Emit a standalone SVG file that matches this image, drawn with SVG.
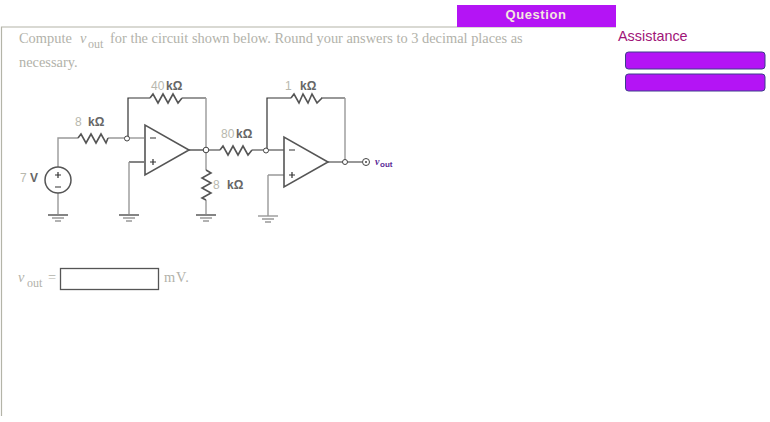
<svg xmlns="http://www.w3.org/2000/svg" width="770" height="422" viewBox="0 0 770 422">
<style>
.t{font-family:"Liberation Serif",serif;font-size:14.4px;fill:#b2b2aa}
.i{font-style:italic}
.s{font-size:12px}
.w{fill:none;stroke:#333;stroke-width:1.2}
.g{fill:none;stroke:#999;stroke-width:1.4}
.o{fill:none;stroke:#555;stroke-width:1.6}
.n{fill:#fff;stroke:#444;stroke-width:1}
.lg{font-family:"Liberation Sans",sans-serif;font-size:12px;fill:#b8b8ae}
.lk{font-family:"Liberation Sans",sans-serif;font-size:12px;font-weight:bold;fill:#666}
.b{fill:#b414f5;stroke:#3c3c8c;stroke-width:1}
</style>
<rect width="770" height="422" fill="#fff"/>
<g id="frame"><path d="M616 27H1.500V416" fill="none" stroke="#b4b4a8" stroke-width="1.200"/></g>
<g id="tab"><rect x="457" y="5" width="159" height="22" fill="#b414f5"/><text x="536" y="19" text-anchor="middle" font-family="Liberation Sans,sans-serif" font-size="13" font-weight="bold" letter-spacing=".6" fill="#f5e6e0">Question</text></g>
<g id="assist"><text x="618" y="41" font-family="Liberation Sans,sans-serif" font-size="14.400" fill="#a01478">Assistance</text>
<rect class="b" x="625.500" y="52" width="139.500" height="17" rx="3"/><rect class="b" x="625.500" y="74" width="139.500" height="17" rx="3"/></g>
<g id="prompt">
<text class="t" x="19" y="43">Compute</text><text class="t i" x="80" y="43">v</text><text class="t s" x="88" y="48">out</text>
<text class="t" x="110" y="43">for the circuit shown below. Round your answers to 3 decimal places as</text>
<text class="t" x="19" y="67">necessary.</text>
</g>
<g id="connectors">
<path class="g" d="M58 167V138H78M108 138H127"/>
<path class="g" d="M58 193V214"/>
<path class="w" d="M128 138V98H150M182 98H206"/>
<path class="g" d="M127 138H144"/>
<path class="w" d="M129 162H144"/><path class="g" d="M129 162V214"/>
<path class="w" d="M189 150H206"/><path class="g" d="M206 98V170M206 200V214"/>
<path class="w" d="M206 150H220M252 150H266M266 150H284"/>
<path class="w" d="M267 150V98H291M321 98H345"/><path class="g" d="M345 98V162"/>
<path class="g" d="M268 175H284M268 175V216"/>
<path class="w" d="M328 162H362"/>
</g>
<g id="resistors">
<path class="o" d="M78 138l3-4 5 9 5-9 5 9 5-9 5 9 2-5"/>
<path class="o" d="M150 98l3-4 5 9 5-9 5 9 5-9 5 9 4-5"/>
<path class="o" d="M220 150l3-4 5 9 5-9 5 9 5-9 5 9 4-5"/>
<path class="o" d="M291 98l3-4 5 9 4-9 5 9 4-9 5 9 5-5"/>
<path class="o" d="M206 170l5 3-9 5 9 5-9 5 9 5-9 5 4 2"/>
</g>
<g id="opamp1"><path class="o" d="M145 125V175L189 150Z"/><path class="w" d="M150 138h6M150 162h6M153 159v6"/></g>
<g id="opamp2"><path class="o" d="M284 137V187L328 162Z"/><path class="w" d="M289 150h6M289 175h6M292 172v6"/></g>
<g id="source"><circle cx="58" cy="180" r="13" fill="#fff" stroke="#555" stroke-width="1.500"/><path class="w" d="M55 175h6M58 172v6M55 187h6"/></g>
<g id="grounds">
<path class="w" d="M48 215h20"/><path class="g" d="M52 218h12M55 221h6"/>
<path class="w" d="M119 215h20"/><path class="g" d="M123 218h12M126 221h6"/>
<path class="w" d="M196 215h20"/><path class="g" d="M200 218h12M203 221h6"/>
<path class="g" d="M258 216h20"/><path class="g" d="M262 219h12M265 222h6"/>
</g>
<g id="nodes"><circle class="n" cx="127" cy="138.500" r="2.500"/><circle class="n" cx="206" cy="150" r="2.800"/><circle class="n" cx="266" cy="150.500" r="2.500"/><circle class="n" cx="345" cy="162" r="2.500"/><circle class="n" cx="366" cy="162" r="3.500"/><circle cx="366" cy="162" r="1" fill="#444"/></g>
<g id="labels">
<text class="lg" x="151" y="90">40</text><text class="lk" x="166" y="90">kΩ</text>
<text class="lg" x="75" y="126">8</text><text class="lk" x="88" y="126">kΩ</text>
<text class="lg" x="285" y="90">1</text><text class="lk" x="300" y="90">kΩ</text>
<text class="lg" x="221" y="138">80</text><text class="lk" x="236" y="138">kΩ</text>
<text class="lg" x="213" y="189">8</text><text class="lk" x="227" y="189">kΩ</text>
<text class="lg" x="20" y="182">7</text><text class="lk" x="30" y="182">V</text>
<text x="375" y="165" font-family="Liberation Serif,serif" font-size="10" font-weight="bold" font-style="italic" fill="#5a2a96">v</text><text x="380" y="167" font-family="Liberation Sans,sans-serif" font-size="8" font-weight="bold" fill="#5a2a96">out</text>
</g>
<g id="answer">
<text class="t i" x="18" y="282">v</text><text class="t s" x="27" y="287">out</text><text class="t" x="48" y="282">=</text>
<rect x="60.500" y="268.500" width="98" height="21" fill="#fff" stroke="#555" stroke-width="1.300"/>
<text class="t" x="164" y="282" letter-spacing=".8">mV.</text>
</g>
</svg>
